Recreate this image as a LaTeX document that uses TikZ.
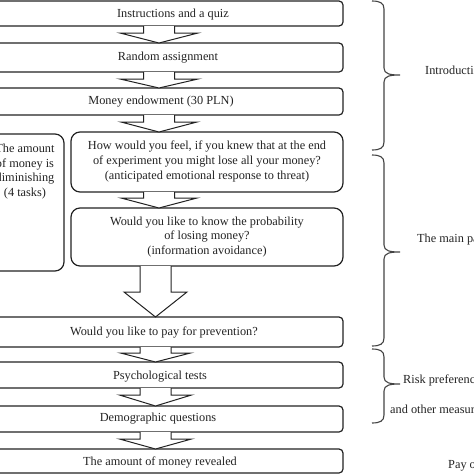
\documentclass[tikz,border=0pt]{standalone}
\usepackage{fontspec}
\setmainfont{Liberation Serif}
\definecolor{ink}{HTML}{222222}
\newcommand\blockarrow[6]{%
  \path[arr] ({#1-#5},{#2}) -- ({#1-#5},{#3}) -- ({#1-#6},{#3}) -- ({#1},{#4})
    -- ({#1+#6},{#3}) -- ({#1+#5},{#3}) -- ({#1+#5},{#2});}
\newcommand\sidebrace[3]{%
  \path[brace] (372,{#1}) .. controls (380,{#1}) and (384,{#1+2}) .. (384,{#1+8})
    -- (384,{#2-7}) .. controls (384,{#2-1}) and (390,{#2}) .. (400,{#2})
    .. controls (390,{#2}) and (384,{#2+1}) .. (384,{#2+7})
    -- (384,{#3-8}) .. controls (384,{#3-2}) and (380,{#3}) .. (372,{#3});}
\begin{document}
\begin{tikzpicture}[x=1pt,y=-1pt,
  box/.style={draw=ink, line width=1.2pt, rounded corners=4pt},
  bigbox/.style={draw=ink, line width=1.2pt, rounded corners=9pt},
  arr/.style={draw=ink, line width=1pt, fill=white, line join=miter},
  txt/.style={font=\fontsize{12.3}{14.6}\selectfont, inner sep=0pt, text=ink},
  lbl/.style={txt, text height=8.6pt, text depth=2.5pt},
  multi/.style={txt, align=center},
  side/.style={lbl, anchor=west},
  brace/.style={draw=ink!85, line width=1.1pt}]
\useasboundingbox (0,0) rectangle (474,474);
\clip (0,0) rectangle (474,474);
% boxes
\draw[box] (-20,1) rectangle (343,26);
\draw[box] (-20,43) rectangle (343,72);
\draw[box] (-20,88) rectangle (343,115);
\draw[bigbox] (-30,134) rectangle (64,271);
\draw[bigbox] (71,132) rectangle (343,192);
\draw[bigbox] (71,208) rectangle (343,266);
\draw[box] (-20,317) rectangle (343,347);
\draw[box] (-20,362) rectangle (343,388);
\draw[box] (-20,406) rectangle (343,432);
\draw[box] (-20,449) rectangle (343,473);
% arrows
\blockarrow{159}{26}{33}{43}{15.5}{39}
\blockarrow{159}{72}{79}{88}{15.5}{39}
\blockarrow{159}{115}{122}{132}{15.5}{38}
\blockarrow{159}{192}{198}{208}{15.5}{38}
\blockarrow{155.5}{266}{292}{317}{15.5}{31.5}
\blockarrow{155.5}{347}{353}{362}{15.5}{35}
\blockarrow{155.5}{388}{395}{406}{15.5}{36}
\blockarrow{155.5}{432}{439}{449}{15.5}{36}
% texts
\node[lbl] (t1) at (173,14) {Instructions and a quiz};
\node[lbl] (t2) at (168,57) {Random assignment};
\node[lbl] (t3) at (161,101) {Money endowment (30 PLN)};
\node[multi] (t0) at (25,171.5) {The amount\\of money is\\diminishing\\(4 tasks)};
\node[multi] (t4) at (207,161.5) {How would you feel, if you knew that at the end\\of experiment you might lose all your money?\\(anticipated emotional response to threat)};
\node[multi] (t5) at (207,237) {Would you like to know the probability\\of losing money?\\(information avoidance)};
\node[lbl] (t6) at (164,332) {Would you like to pay for prevention?};
\node[lbl] (t7) at (160,376) {Psychological tests};
\node[lbl] (t8) at (158,418) {Demographic questions};
\node[lbl] (t9) at (160,462) {The amount of money revealed};
% braces
\sidebrace{1}{75}{150}
\sidebrace{155}{252}{346}
\sidebrace{349}{384}{423}
\node[side] (s1) at (425,71) {Introduction};
\node[side] (s2) at (417,239) {The main part};
\node[side] (s3) at (403,380) {Risk preferences};
\node[side] (s4) at (390,410) {and other measures};
\node[side] (s5) at (448,465) {Pay off};
\end{tikzpicture}
\end{document}
